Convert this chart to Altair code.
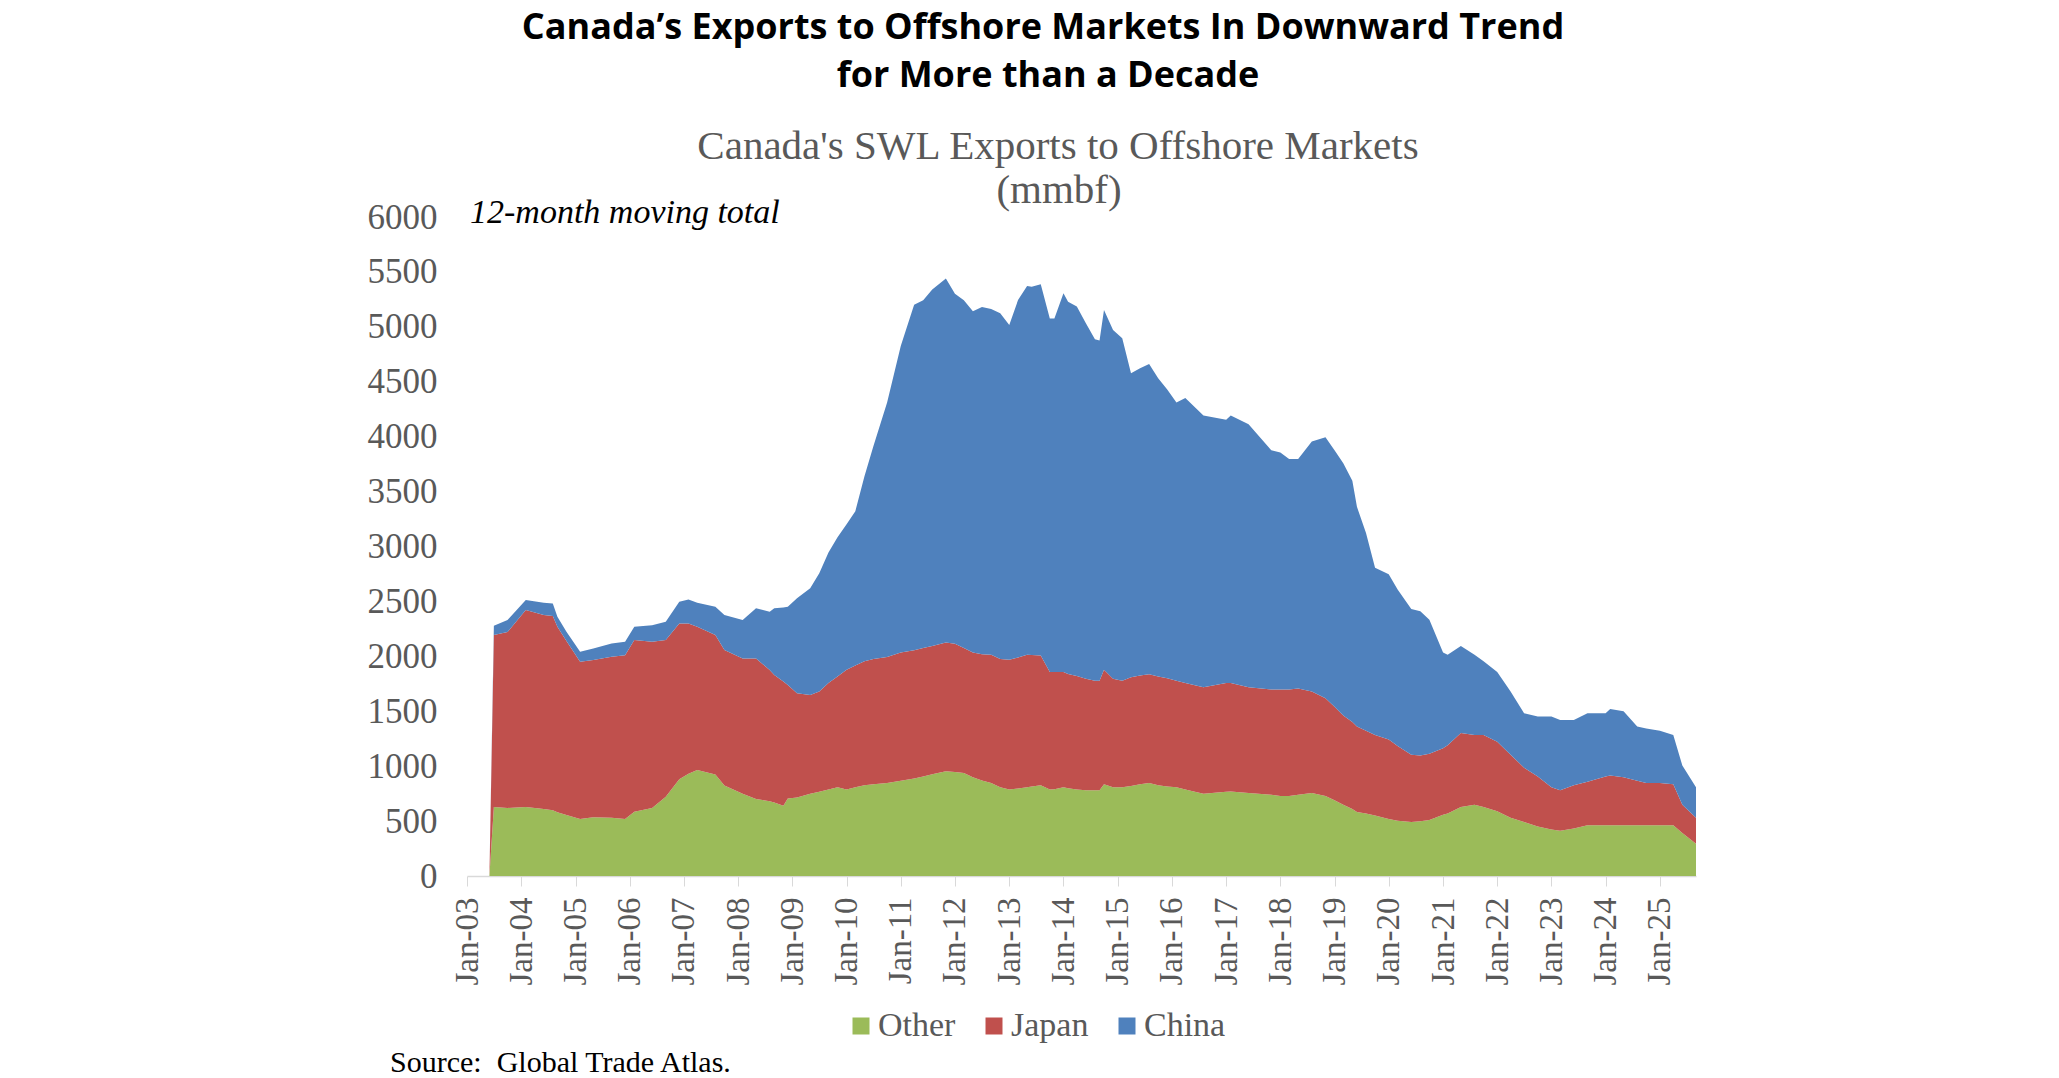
import altair as alt
import pandas as pd

# ---- data (12-month moving totals, mmbf) ----
months = ["2003-06","2003-07","2003-10","2004-02","2004-06","2004-08","2004-09","2004-11",
          "2005-02","2005-05","2005-09","2005-12","2006-02","2006-06","2006-09","2006-12",
          "2007-02","2007-04","2007-08","2007-10","2008-02","2008-05","2008-08","2008-09",
          "2008-11","2008-12","2009-02","2009-05","2009-07","2009-09","2009-11","2010-01",
          "2010-03","2010-05","2010-07","2010-10","2011-01","2011-04","2011-06","2011-08",
          "2011-11","2012-01","2012-03","2012-05","2012-07","2012-09","2012-11","2013-01",
          "2013-03","2013-05","2013-06","2013-08","2013-10","2013-11","2014-01","2014-02",
          "2014-04","2014-06","2014-08","2014-09","2014-10","2014-12","2015-02","2015-04",
          "2015-06","2015-08","2015-10","2015-12","2016-02","2016-04","2016-08","2017-01",
          "2017-02","2017-06","2017-11","2018-01","2018-03","2018-05","2018-08","2018-11",
          "2019-01","2019-03","2019-05","2019-06","2019-08","2019-10","2020-01","2020-03",
          "2020-06","2020-08","2020-10","2021-01","2021-02","2021-05","2021-08","2021-10",
          "2022-01","2022-04","2022-07","2022-10","2023-01","2023-03","2023-06","2023-09",
          "2024-01","2024-02","2024-05","2024-08","2024-10","2025-01","2025-04","2025-06",
          "2025-09"]

other = [0,628,620,628,611,599,580,555,
         518,535,530,518,585,620,721,880,
         930,966,925,824,750,701,681,670,
         640,705,715,748,768,788,808,788,
         808,827,835,847,867,887,907,926,
         954,946,938,899,870,847,808,788,
         796,808,815,827,788,790,808,800,
         788,780,780,780,835,808,808,820,
         835,847,827,815,808,788,748,768,
         770,756,740,728,728,740,756,728,
         689,649,610,582,570,550,519,503,
         491,499,511,558,570,629,649,629,
         590,531,491,451,424,412,432,463,
         463,463,463,463,463,463,463,392,
         293]

japan = [0,1566,1602,1794,1765,1768,1689,1585,
         1433,1431,1466,1493,1563,1513,1427,1420,
         1370,1303,1269,1234,1231,1280,1195,1160,
         1130,1034,948,900,911,970,1009,1089,
         1108,1129,1141,1148,1168,1168,1168,1168,
         1172,1168,1137,1136,1150,1168,1168,1180,
         1194,1207,1197,1180,1069,1067,1049,1040,
         1032,1017,998,998,1042,989,970,989,
         990,990,990,985,970,970,970,990,
         988,962,958,970,970,966,923,891,
         851,812,791,780,752,733,724,681,
         614,598,601,606,620,674,634,654,
         633,574,495,456,384,368,395,396,
         444,452,436,404,384,384,372,257,
         238]

china = [0,85,109,91,113,115,92,84,
         90,106,121,121,121,151,167,197,
         218,219,258,318,350,456,531,607,
         675,713,865,971,1077,1187,1267,1326,
         1406,1682,1940,2316,2791,3147,3167,3247,
         3314,3187,3167,3108,3161,3147,3147,3049,
         3254,3357,3354,3380,3220,3220,3448,3389,
         3364,3236,3109,3097,3276,3174,3118,2768,
         2798,2825,2714,2630,2533,2593,2475,2395,
         2435,2395,2178,2158,2099,2091,2276,2376,
         2336,2296,2198,1999,1802,1524,1505,1425,
         1326,1314,1220,871,825,791,732,673,
         634,574,495,546,645,641,594,622,
         574,605,601,495,495,475,448,357,
         277]

assert len(months) == len(other) == len(japan) == len(china)

series_names = ["Other", "Japan", "China"]
series_colors = ["#9BBB59", "#C0504D", "#4F81BD"]
tick_years = list(range(2003, 2026))
y_ticks = list(range(0, 6001, 500))

title_lines = ["Canada\u2019s Exports to Offshore Markets In Downward Trend",
               "for More than a Decade"]
subtitle_lines = ["Canada's SWL Exports to Offshore Markets", "(mmbf)"]
note_text = "12-month moving total"
source_text = "Source:\u00a0 Global Trade Atlas."

# ---- build long table ----
rows = []
for i, m in enumerate(months):
    d = pd.Timestamp(m + "-01")
    for k, (name, vals) in enumerate(zip(series_names, [other, japan, china])):
        rows.append({"date": d, "series": name, "value": vals[i], "ord": k})
df = pd.DataFrame(rows)

W, H = 1229, 659
SERIF = "Liberation Serif"

area = alt.Chart(df).mark_area(interpolate="linear", opacity=1, strokeWidth=0).encode(
    x=alt.X("date:T",
            scale=alt.Scale(domain=[alt.DateTime(year=2003, month=1, date=1),
                                    alt.DateTime(year=2025, month=9, date=1)]),
            axis=alt.Axis(title=None, format="%b-%y",
                          values=[alt.DateTime(year=y, month=1, date=1) for y in tick_years],
                          labelAngle=-90, labelAlign="right", labelBaseline="middle",
                          labelFont=SERIF, labelFontSize=33, labelColor="#595959",
                          labelPadding=11, tickSize=10, tickColor="#D9D9D9",
                          domainColor="#D9D9D9", domainWidth=1.5, grid=False,
                          labelOverlap=False, labelBound=False, labelFlush=False)),
    y=alt.Y("value:Q", stack="zero",
            scale=alt.Scale(domain=[0, 6000], nice=False, zero=True),
            axis=alt.Axis(title=None, values=y_ticks, domain=False, ticks=False,
                          tickSize=0, grid=False, labelFont=SERIF, labelFontSize=35,
                          labelColor="#595959", labelPadding=30, format="d")),
    color=alt.Color("series:N",
                    scale=alt.Scale(domain=series_names, range=series_colors),
                    legend=alt.Legend(title=None, orient="none", legendX=377, legendY=792,
                                      direction="horizontal", symbolType="square",
                                      symbolSize=289, symbolStrokeWidth=0, symbolOpacity=1,
                                      labelFont=SERIF, labelFontSize=34, labelColor="#595959",
                                      labelOffset=0, columnPadding=21, padding=0)),
    order=alt.Order("ord:Q", sort="ascending"),
)

def txt(text, x, y, size, font, color="black", weight="normal", style="normal", align="center"):
    return alt.Chart(pd.DataFrame({"t": [text]})).mark_text(
        font=font, fontSize=size, fontWeight=weight, fontStyle=style, color=color,
        align=align, baseline="alphabetic"
    ).encode(text="t:N", x=alt.value(x), y=alt.value(y))

layers = [
    area,
    txt(title_lines[0], 576, -178, 36, "Open Sans", weight="bold"),
    txt(title_lines[1], 581, -130, 36, "Open Sans", weight="bold"),
    txt(subtitle_lines[0], 591, -58, 41, SERIF, color="#595959"),
    txt(subtitle_lines[1], 592, -14, 41, SERIF, color="#595959"),
    txt(note_text, 3, 6, 34, SERIF, style="italic", align="left"),
    txt(source_text, -77, 855, 30, SERIF, align="left"),
]

chart = alt.layer(*layers).properties(
    width=W, height=H, autosize="none",
    padding={"left": 467, "top": 217, "right": 363, "bottom": 202},
    background="white",
).configure_view(stroke=None)

chart.save("out.html", embed_options={"renderer": "svg", "actions": False})
